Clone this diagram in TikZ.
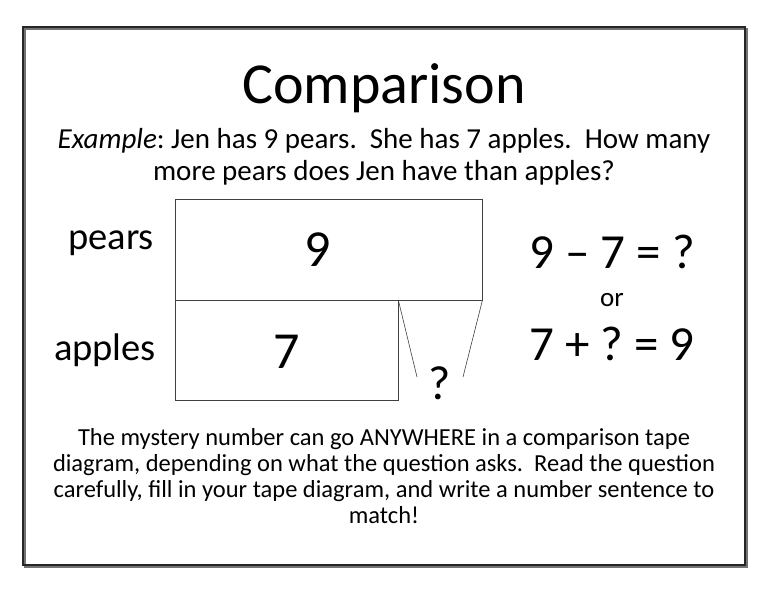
\documentclass[tikz,border=0pt]{standalone}
\usepackage{fontspec}
\setmainfont{Carlito}
\frenchspacing
\tikzset{
  tape/.style={draw=black!75, line width=0.8pt, inner sep=0pt},
  word/.style={inner sep=0pt, align=center},
}
\begin{document}
\begin{tikzpicture}[x=1pt,y=-1pt]
          \useasboundingbox (0,0) rectangle (768,593);
          % frame with shadow
          \draw[black!55, line width=1.6pt] (25,29) rectangle (747,567);
          \draw[black!85, line width=1.4pt] (23,27) rectangle (745,565);
          % title and example
          \node[word, font=\fontsize{58}{60}\selectfont] (title) at (384,88) {Comparison};
          \node[word, font=\fontsize{29}{32}\selectfont] (example) at (384,157)
            {\textit{Example}: Jen has 9 pears.~ She has 7 apples.~ How many\\more pears does Jen have than apples?};
          % two tapes
          \node[tape, minimum width=307pt, minimum height=101pt] (pearstape) at (328.5,249.5) {};
          \node[tape, minimum width=223pt, minimum height=100pt, anchor=north west] (applestape) at (pearstape.south west) {};
          \node[word, font=\fontsize{52}{54}\selectfont] (nine) at (318,250) {9};
          \node[word, font=\fontsize{52}{54}\selectfont] (seven) at (287,352) {7};
          \node[word, font=\fontsize{38.5}{40}\selectfont] (pears) at (111,243) {pears};
          \node[word, font=\fontsize{38.5}{40}\selectfont] (apples) at (105,350) {apples};
          % the difference
          \coordinate (qleft) at (417,377);
          \coordinate (qright) at (463,377);
          \draw[black!75, line width=0.6pt] (applestape.north east) -- (qleft);
          \draw[black!75, line width=0.6pt] (pearstape.south east) -- (qright);
          \node[word, font=\fontsize{48}{50}\selectfont] (diff) at (440,383) {?};
          % number sentences
          \node[word, font=\fontsize{49}{52}\selectfont] (subtract) at (612,252) {9 – 7 = ?};
          \node[word, font=\fontsize{27}{28}\selectfont] (or) at (612,300) {or};
          \node[word, font=\fontsize{49}{52}\selectfont] (add) at (612,344) {7 + ? = 9};
          % text
          \node[word, font=\fontsize{24.5}{26}\selectfont] (note) at (384,476)
            {The mystery number can go ANYWHERE in a comparison tape\\diagram, depending on what the question asks.~ Read the question\\carefully, fill in your tape diagram, and write a number sentence to\\match!};
        \end{tikzpicture}
\end{document}
